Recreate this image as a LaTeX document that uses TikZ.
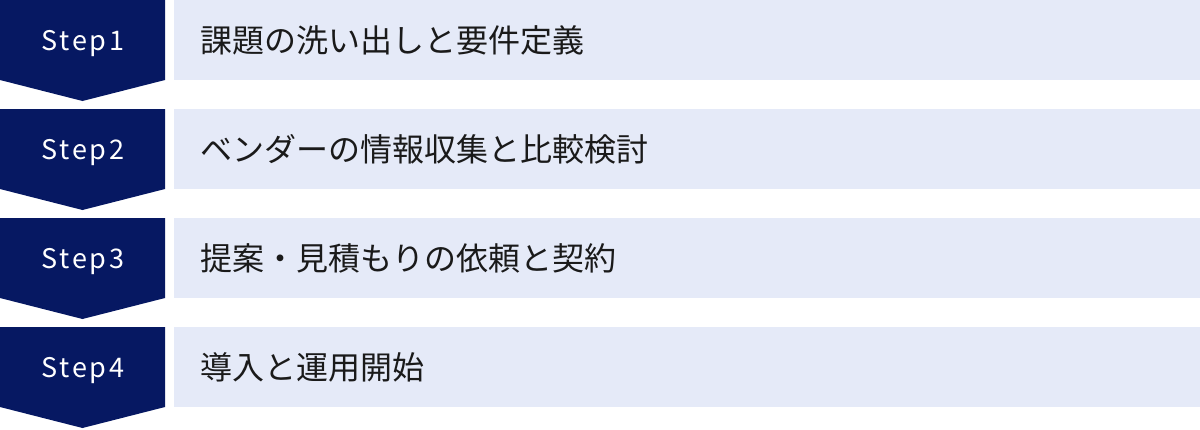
\documentclass[tikz,border=0pt]{standalone}
\usepackage{fontspec}
\newfontfamily\jpfont{Noto Sans CJK JP}
\definecolor{navy}{HTML}{061862}
\definecolor{pale}{HTML}{E5EAF8}
\definecolor{txt}{HTML}{1A1A1A}
\begin{document}
\begin{tikzpicture}[x=1pt,y=-1pt,
  chev/.style={fill=navy},
  lbl/.style={text=white,font=\jpfont\fontsize{27}{30}\selectfont,anchor=base,inner sep=0},
  bar/.style={fill=pale},
  desc/.style={text=txt,font=\jpfont\fontsize{32}{36}\selectfont,anchor=west,inner sep=0}]
\useasboundingbox (0,0) rectangle (1200,429);
\foreach \i/\t in {0/{課題の洗い出しと要件定義},1/{ベンダーの情報収集と比較検討},2/{提案・見積もりの依頼と契約},3/{導入と運用開始}}{
  \pgfmathsetmacro{\yy}{\i*109}
  \fill[chev] (0,\yy) -- (165,\yy) -- (165,\yy+80) -- (82.5,\yy+101) -- (0,\yy+80) -- cycle;
  \fill[bar] (174,\yy) rectangle (1200,\yy+80);
  \pgfmathtruncatemacro{\n}{\i+1}
  \node[lbl] (s\n) at (83,\yy+50.5) {\addfontfeature{LetterSpace=10}Step\n};
  \node[desc] (d\n) at (200,\yy+40) {\t};
}
\end{tikzpicture}
\end{document}
